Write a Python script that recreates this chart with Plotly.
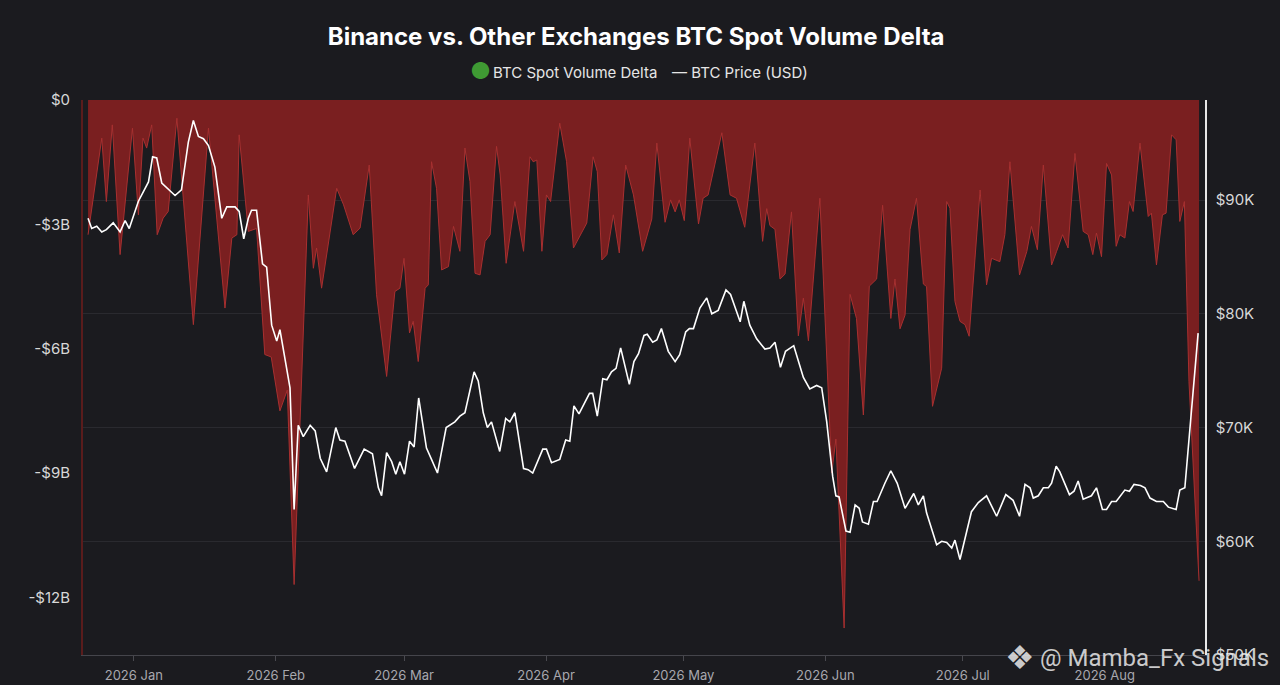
import pandas as pd
import plotly.graph_objects as go

# --- data ---
START_DATE = "2025-12-22"

# Binance vs other exchanges spot volume delta, $B (day offset from START_DATE)
delta_day = [
    0.0, 3.0, 4.0, 5.3, 7.0, 9.7, 11.0, 12.0, 12.8, 13.9, 15.1, 16.4, 17.5, 19.4,
    23.0, 26.3, 29.9, 31.4, 32.5, 33.0, 35.0, 36.8, 38.6, 40.0, 41.9, 43.5, 45.0,
    48.1, 49.2, 49.9, 51.0, 54.3, 55.8, 57.9, 59.4, 61.4, 63.0, 65.2, 67.0, 68.1,
    69.0, 70.2, 71.0, 72.1, 73.6, 74.3, 75.0, 76.1, 77.2, 78.7, 79.8, 81.2, 82.3,
    83.4, 84.5, 85.6, 86.7, 87.8, 89.2, 90.0, 91.3, 93.2, 95.1, 96.5, 97.2, 98.0,
    99.1, 100.1, 101.0, 103.0, 104.5, 106.0, 108.9, 110.3, 111.2, 112.2, 113.3,
    114.7, 116.0, 117.4, 119.1, 121.1, 123.1, 124.2, 126.0, 127.2, 128.2, 129.1,
    130.2, 131.4, 133.3, 134.3, 135.4, 138.4, 140.2, 141.6, 143.4, 145.6, 147.3,
    148.2, 148.9, 150.0, 151.1, 152.2, 153.6, 155.1, 156.2, 157.3, 159.8, 162.4,
    163.3, 165.1, 166.4, 167.8, 169.3, 170.6, 172.2, 173.5, 175.3, 176.2, 177.3,
    178.4, 179.5, 180.9, 182.4, 183.1, 184.4, 186.4, 187.5, 188.2, 189.3, 190.4,
    191.5, 192.4, 194.8, 196.2, 197.3, 199.1, 200.2, 201.3, 203.4, 205.0, 206.0,
    207.3, 208.6, 210.4, 211.5, 212.8, 214.0, 215.5, 217.3, 218.4, 219.4, 220.2,
    221.3, 222.4, 223.5, 224.5, 225.3, 226.4, 227.4, 228.2, 229.7, 231.5, 232.2,
    233.3, 234.6, 235.4, 236.6, 237.6, 238.4, 239.4, 240.4, 241.5, 242.6,
]
delta_bn = [
    -3.25, -0.92, -2.45, -0.60, -3.73, -0.68, -2.77, -0.92, -1.16, -0.60, -3.25, -2.85, -2.69, -0.44,
    -5.42, -0.68, -5.02, -3.33, -3.25, -0.84, -3.17, -3.10, -6.14, -6.20, -7.50, -7.00, -11.69,
    -2.29, -4.06, -3.57, -4.54, -2.13, -2.53, -3.25, -3.09, -1.57, -4.70, -6.67, -4.62, -4.54,
    -3.82, -5.62, -5.34, -6.31, -4.54, -4.46, -1.49, -2.13, -4.10, -4.02, -3.05, -3.65, -1.16,
    -1.97, -4.18, -4.22, -3.41, -3.25, -1.12, -1.81, -3.94, -2.45, -3.65, -1.37, -1.49, -1.45,
    -3.65, -2.29, -2.45, -0.56, -1.49, -3.57, -2.97, -1.37, -1.73, -3.86, -3.73,
    -2.77, -3.69, -1.57, -2.29, -3.65, -2.87, -1.04, -2.95, -2.41, -2.70, -2.41,
    -2.91, -0.92, -2.99, -2.37, -2.29, -0.79, -2.29, -2.37, -3.07, -1.04, -3.41,
    -2.62, -3.03, -3.12, -4.32, -4.20, -2.70, -5.69, -4.78, -5.81, -2.37, -9.00,
    -8.18, -12.74, -4.69, -5.27, -7.60, -4.49, -4.32, -2.54, -5.27, -4.32, -5.52,
    -5.19, -3.12, -2.37, -4.44, -4.50, -7.39, -6.47, -2.45, -2.61, -4.86, -5.34,
    -5.42, -5.70, -2.17, -4.46, -3.82, -3.90, -3.25, -1.49, -4.22, -3.65, -3.05,
    -3.61, -1.57, -3.98, -3.65, -3.25, -3.57, -1.29, -3.17, -3.25, -3.73, -3.21,
    -3.78, -1.53, -1.81, -3.53, -3.25, -3.33, -2.45, -2.69, -1.04, -2.81, -2.73,
    -3.98, -2.77, -2.73, -0.84, -0.96, -2.93, -2.45, -6.80, -9.30, -11.60,
]

# BTC price, $K (day offset from START_DATE)
price_day = [
    0.0, 0.8, 1.9, 3.0, 4.0, 5.5, 7.0, 8.1, 9.0, 11.0, 13.2, 14.1, 15.0, 16.1,
    19.0, 20.4, 21.9, 23.0, 24.1, 25.2, 26.3, 27.7, 29.2, 30.3, 32.1, 33.0, 34.0,
    35.0, 35.7, 36.8, 38.1, 39.0, 40.1, 41.2, 41.9, 43.0, 44.1, 45.0, 45.9, 47.0,
    48.5, 49.6, 50.7, 52.1, 54.1, 55.0, 56.1, 58.2, 60.3, 62.1, 63.4, 64.1, 65.2,
    66.3, 67.2, 68.1, 69.1, 70.2, 71.2, 72.2, 73.9, 75.0, 76.3, 78.2, 80.1, 81.2,
    82.3, 84.3, 85.2, 86.3, 87.2, 88.1, 89.9, 91.2, 92.1, 93.2, 95.1, 96.1, 97.1,
    99.3, 100.1, 101.2, 103.0, 104.3, 105.2, 106.1, 107.2, 109.5, 110.2, 111.2,
    112.4, 113.3, 114.3, 115.3, 116.3, 118.2, 119.2, 120.2, 121.4, 122.1, 123.3,
    124.2, 125.2, 126.7, 128.2, 129.2, 130.5, 131.3, 132.2, 133.6, 135.1, 136.2,
    137.6, 139.3, 140.3, 142.4, 143.2, 144.5, 146.0, 147.8, 148.9, 150.0, 151.2,
    152.3, 154.1, 156.2, 157.6, 159.1, 160.2, 161.3, 162.6, 163.3, 164.0, 165.5,
    166.4, 167.5, 168.4, 169.1, 170.4, 171.5, 172.3, 174.0, 175.3, 176.7, 178.4,
    180.3, 181.3, 182.4, 183.1, 185.3, 186.4, 187.5, 188.6, 189.3, 190.4, 192.9,
    194.4, 196.2, 198.4, 200.4, 202.0, 203.4, 204.6, 205.7, 206.4, 207.5, 208.6,
    209.7, 210.4, 211.4, 212.2, 214.3, 215.3, 216.2, 217.3, 219.1, 220.2, 221.5,
    222.4, 223.5, 224.5, 226.4, 227.4, 228.4, 229.8, 230.8, 231.9, 233.3, 234.8,
    235.9, 237.6, 238.4, 239.5, 242.4,
]
price_k = [
    88.4, 87.5, 87.7, 87.2, 87.4, 88.0, 87.2, 88.2, 87.5, 89.9, 91.6, 93.8, 93.7, 91.5,
    90.4, 90.9, 95.1, 97.0, 95.6, 95.4, 94.8, 92.9, 88.4, 89.4, 89.4, 89.0, 86.6,
    88.4, 89.1, 89.1, 84.4, 84.1, 79.0, 77.6, 78.6, 76.1, 73.5, 62.8, 70.2, 69.2,
    70.2, 69.7, 67.3, 66.1, 70.0, 68.9, 68.8, 66.4, 68.1, 67.7, 64.7, 64.0, 67.8,
    67.0, 65.9, 67.0, 65.9, 68.8, 68.3, 72.6, 68.2, 67.2, 66.0, 70.0, 70.5, 71.0,
    71.3, 74.9, 74.1, 71.3, 70.0, 70.5, 67.9, 70.8, 70.5, 71.3, 66.4, 66.3, 66.0,
    68.1, 68.1, 66.9, 67.2, 68.9, 68.8, 71.9, 71.2, 73.0, 73.0, 71.0,
    74.3, 74.2, 74.9, 75.2, 77.0, 73.8, 75.8, 76.5, 78.1, 78.2, 77.5,
    77.7, 78.7, 76.7, 75.8, 76.4, 78.4, 78.7, 78.7, 80.5, 81.4, 80.0,
    80.3, 82.1, 81.7, 79.3, 81.1, 79.0, 77.8, 76.9, 77.0, 77.5, 75.3,
    76.7, 77.2, 74.4, 73.4, 73.7, 73.5, 70.5, 65.7, 64.0, 63.9, 60.9,
    60.8, 63.2, 62.9, 61.7, 61.5, 63.5, 63.5, 65.1, 66.2, 65.1, 62.9,
    64.2, 63.2, 64.0, 62.5, 59.7, 60.0, 59.9, 59.4, 60.1, 58.4, 62.6,
    63.4, 64.0, 62.2, 64.1, 63.6, 62.2, 65.0, 64.7, 63.8, 64.0, 64.7,
    64.7, 65.1, 66.6, 66.1, 64.1, 64.4, 65.3, 63.7, 64.0, 64.7, 62.8,
    62.8, 63.5, 63.5, 64.5, 64.4, 65.0, 64.9, 64.7, 63.8, 63.5, 63.5,
    63.0, 62.8, 64.5, 64.7, 78.3,
]

left_ticks = [0, -3, -6, -9, -12]
left_labels = ["$0", "-$3B", "-$6B", "-$9B", "-$12B"]
right_ticks = [50, 60, 70, 80, 90]
right_labels = ["$50K", "$60K", "$70K", "$80K", "$90K"]

TITLE = "Binance vs. Other Exchanges BTC Spot Volume Delta"
BG = "#1b1b1f"
FONT = "Inter, Roboto, sans-serif"

start = pd.Timestamp(START_DATE)
delta_x = start + pd.to_timedelta(delta_day, unit="D")
price_x = start + pd.to_timedelta(price_day, unit="D")

W, H = 1280, 685
L, R, T, B = 83, 75, 100, 30


def px_x(px):
    return (px - L) / (W - L - R)


def px_y(py):
    return (H - B - py) / (H - T - B)


fig = go.Figure()

# 成交量差值 (红色面积)
fig.add_trace(go.Scatter(
    x=delta_x, y=delta_bn, name="BTC Spot Volume Delta",
    mode="lines", fill="tozeroy",
    line=dict(color="#a83030", width=1),
    fillcolor="#7a1f20",
    showlegend=False,
))

# 价格 (白线, 右轴)
fig.add_trace(go.Scatter(
    x=price_x, y=price_k, name="BTC Price (USD)",
    mode="lines", yaxis="y2",
    line=dict(color="#ffffff", width=1.6),
    showlegend=False,
))

# 自绘图例
fig.add_annotation(x=px_x(480), y=px_y(71), xref="paper", yref="paper",
                   text="●", showarrow=False, font=dict(size=23, color="#3f9a33"),
                   xanchor="center", yanchor="middle")
fig.add_annotation(x=px_x(491), y=px_y(72), xref="paper", yref="paper",
                   text="BTC Spot Volume Delta", showarrow=False,
                   font=dict(size=15, color="#e6e6e6", family=FONT),
                   xanchor="left", yanchor="middle")
fig.add_annotation(x=px_x(670), y=px_y(72), xref="paper", yref="paper",
                   text="— BTC Price (USD)", showarrow=False,
                   font=dict(size=15, color="#e6e6e6", family=FONT),
                   xanchor="left", yanchor="middle")

# 水印
fig.add_annotation(x=px_x(1003), y=px_y(657), xref="paper", yref="paper",
                   text="❖", showarrow=False,
                   font=dict(size=33, color="rgba(235,235,235,0.85)", family="DejaVu Sans, sans-serif"),
                   xanchor="left", yanchor="middle")
fig.add_annotation(x=px_x(1271), y=px_y(658), xref="paper", yref="paper",
                   text="@ Mamba_Fx Signals", showarrow=False,
                   font=dict(size=24, color="rgba(235,235,235,0.85)", family="Roboto, sans-serif"),
                   xanchor="right", yanchor="middle")

fig.update_layout(
    width=W, height=H,
    margin=dict(l=L, r=R, t=T, b=B, autoexpand=False),
    paper_bgcolor=BG, plot_bgcolor=BG,
    font=dict(family=FONT, color="#d8d8d8", size=15),
    title=dict(text=f"<b>{TITLE}</b>", x=0.497, xanchor="center",
               y=1 - 37 / H, yanchor="middle",
               font=dict(size=24, color="#ffffff", family=FONT)),
    showlegend=False,
    xaxis=dict(
        type="date", automargin=False,
        range=[start - pd.Timedelta(days=1.1), start + pd.Timedelta(days=243.9)],
        tick0="2026-01-01", dtick="M1", tickformat="%Y %b",
        ticks="outside", ticklen=5, tickcolor="#4a4a50",
        tickfont=dict(size=13, color="#a8a8ae"),
        ticklabelstandoff=3,
        showgrid=False, showline=True, linecolor="#45454b", linewidth=1,
        zeroline=False,
    ),
    yaxis=dict(
        range=[-13.39, 0], automargin=False,
        tickvals=left_ticks, ticktext=left_labels,
        tickfont=dict(size=15, color="#d8d8d8"),
        ticklabelstandoff=8,
        showgrid=False, zeroline=False,
        showline=True, linecolor="#5a1c1c", linewidth=2,
    ),
    yaxis2=dict(
        overlaying="y", side="right", automargin=False,
        range=[50, 98.8],
        tickvals=right_ticks, ticktext=right_labels,
        tickfont=dict(size=15, color="#d8d8d8"),
        ticklabelstandoff=6,
        showgrid=True, gridcolor="#2a2a2f", gridwidth=1,
        zeroline=False,
        showline=True, linecolor="#e8e8e8", linewidth=1.5,
    ),
)

# 去掉页面默认边距, 让图从左上角开始
fig.write_html(
    "out.html",
    config={"displayModeBar": False},
    post_script="document.body.style.margin='0';document.body.style.background='#1b1b1f';",
)
